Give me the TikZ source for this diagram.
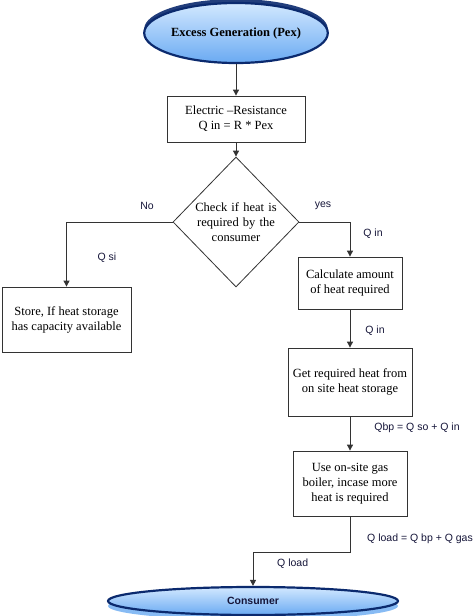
\documentclass[tikz,border=0pt]{standalone}
\usepackage{fontspec}
\setmainfont{Liberation Serif}
\setsansfont{Liberation Sans}
\usetikzlibrary{arrows.meta,shapes.geometric,shadows}
\definecolor{navy}{HTML}{0B2A6E}
\definecolor{lightblue}{HTML}{D2E8FF}
\definecolor{midblue}{HTML}{6AAAF2}
\definecolor{linegrey}{HTML}{333333}
\definecolor{labelcol}{HTML}{16163A}
\tikzset{
  >={Triangle[length=6pt,width=6pt]},
  terminal/.style={ellipse,draw=navy,line width=2.2pt,top color=lightblue,bottom color=midblue,
    inner sep=0pt,font=\fontsize{12.5}{14}\selectfont\bfseries},
  process/.style={rectangle,draw=linegrey,line width=0.8pt,fill=white,align=center,inner sep=2pt,
    font=\fontsize{12.5}{15}\selectfont},
  decision/.style={diamond,draw=linegrey,line width=0.8pt,fill=white,align=center,inner sep=0pt,
    text width=82pt,font=\fontsize{12.5}{15}\selectfont},
  flowlabel/.style={font=\sffamily\fontsize{10.5}{12}\selectfont,text=labelcol,inner sep=1pt},
  flow/.style={draw=linegrey,line width=0.9pt,->}
}
\begin{document}
\begin{tikzpicture}[x=1pt,y=-1pt]
    \useasboundingbox[fill=white] (0,0) rectangle (474,616);
    \node[terminal,minimum width=178pt,minimum height=60pt,
      drop shadow={shadow xshift=0pt,shadow yshift=4pt,fill=navy,opacity=0.9}] (excess) at (236,33) {Excess Generation (Pex)};
    \node[process,minimum width=138pt,minimum height=46pt] (resist) at (236,119) {Electric --Resistance\\Q in = R * Pex};
    \node[decision,minimum width=126pt,minimum height=130pt] (check) at (236,222) {Check if heat is\\required by the\\consumer};
    \node[process,minimum width=129pt,minimum height=65pt] (store) at (66.5,319.5) {Store, If heat storage\\has capacity available};
    \node[process,minimum width=104pt,minimum height=52pt] (calc) at (350,283) {Calculate amount\\of heat required};
    \node[process,minimum width=124pt,minimum height=68pt] (storage) at (350,382) {Get required heat from\\on site heat storage};
    \node[process,minimum width=114pt,minimum height=65pt] (boiler) at (350,483.5) {Use on-site gas\\boiler, incase more\\heat is required};
    \node[terminal,minimum width=290pt,minimum height=28pt,font=\sffamily\fontsize{10.5}{12}\selectfont\bfseries,text=labelcol,
      drop shadow={shadow xshift=0pt,shadow yshift=-5pt,fill=midblue,opacity=0.8}] (consumer) at (253,601) {Consumer};
    \coordinate (bend) at (350,552);
    \draw[flow] (excess) to (resist);
    \draw[flow] (resist) to (check);
    \draw[flow] (check.west) -| (store.north);
    \draw[flow] (check.east) -| (calc.north);
    \draw[flow] (calc) to (storage);
    \draw[flow] (storage) to (boiler);
    \draw[flow] (boiler.south) -- (bend) -| (consumer.north);
    \node[flowlabel] (no) at (147,206) {No};
    \node[flowlabel] (yes) at (323,206) {yes};
    \node[flowlabel] (qin1) at (373,234) {Q in};
    \node[flowlabel] (qsi) at (107,258) {Q si};
    \node[flowlabel] (qin2) at (375,331) {Q in};
    \node[flowlabel] (qbp) at (417,428) {Qbp = Q so + Q in};
    \node[flowlabel,anchor=west] (qtotal) at (366,539) {Q load = Q bp + Q gas};
    \node[flowlabel,anchor=west] (qload) at (276,564) {Q load};
  \end{tikzpicture}
\end{document}
